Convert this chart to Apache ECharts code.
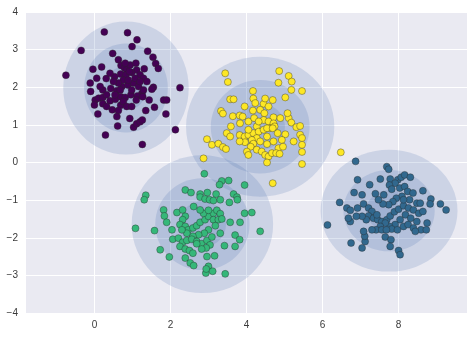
<!DOCTYPE html>
<html>
<head>
<meta charset="utf-8">
<script src="https://cdn.jsdelivr.net/npm/echarts@6/dist/echarts.min.js"></script>
<style>
  html, body { margin: 0; padding: 0; background: #fff; }
  #chart { width: 474px; height: 337px; }
</style>
</head>
<body>
<div id="chart"></div>
<script>
// cluster points, [x, y]
const clusterPurple = [
  [-0.75,2.32],[-0.35,2.98],[0.26,3.47],[0.87,3.45],[1.12,3.26],[0.99,3.08],[0.48,2.90],[1.40,2.96],
  [1.54,2.80],[1.61,2.63],[1.68,2.50],[-0.04,2.48],[0.19,2.54],[0.63,2.73],[0.70,2.58],[0.79,2.52],
  [0.85,2.46],[0.94,2.59],[1.09,2.64],[1.11,2.46],[1.31,2.49],[-0.11,2.11],[0.06,2.24],[0.31,2.23],
  [0.53,2.28],[0.69,2.35],[0.83,2.33],[0.98,2.39],[1.20,2.33],[1.29,2.24],[1.38,2.15],[1.55,2.00],
  [1.51,1.95],[2.25,1.99],[-0.10,1.89],[0.22,1.93],[0.43,1.97],[0.59,1.91],[0.72,2.02],[0.88,2.06],
  [1.03,2.11],[1.16,2.02],[1.25,1.84],[1.44,1.66],[1.58,1.47],[1.82,1.66],[1.90,1.66],[1.88,1.29],
  [0.02,1.66],[0.11,1.71],[0.22,1.73],[0.00,1.53],[0.09,1.29],[0.41,1.64],[0.55,1.68],[0.69,1.75],
  [0.81,1.73],[0.96,1.80],[1.13,1.77],[1.27,1.75],[0.69,1.52],[0.47,1.40],[0.63,1.38],[0.59,1.22],
  [0.93,1.17],[1.03,0.94],[1.11,1.03],[1.20,1.08],[1.26,1.13],[1.35,1.38],[0.61,0.97],[0.29,0.73],
  [1.26,0.48],[2.13,0.87],[0.22,1.56],[0.76,2.19],[0.89,2.19],[1.07,2.24],[0.63,2.11],[0.54,1.80],
  [0.32,1.80],[0.98,1.93],[1.10,1.66],[0.76,1.62],[0.85,1.49],[0.50,2.15],[0.68,1.93],[0.92,2.42],
  [0.81,2.64],[0.41,2.37],[1.20,2.15],[0.15,2.02],[1.29,1.93],[0.98,1.49],[0.32,1.49]
];
const clusterTeal = [
  [6.87,0.03],[7.69,-0.11],[7.74,-0.18],[6.92,-0.46],[7.52,-0.44],[7.78,-0.44],[7.98,-0.46],[8.07,-0.39],
  [8.16,-0.33],[8.31,-0.39],[7.91,-0.55],[7.76,-0.60],[7.82,-0.71],[8.03,-0.68],[8.16,-0.64],[8.24,-0.77],
  [8.38,-0.81],[8.64,-0.75],[9.10,-1.10],[9.25,-1.26],[8.85,-0.97],[8.83,-1.10],[8.48,-1.08],[8.29,-0.99],
  [8.09,-0.90],[7.94,-0.95],[7.85,-1.04],[7.74,-1.12],[7.59,-1.10],[7.47,-0.99],[7.39,-0.83],[7.24,-0.59],
  [7.04,-0.86],[6.83,-0.80],[6.45,-1.06],[6.64,-1.21],[6.73,-1.27],[6.92,-1.21],[7.08,-1.10],[7.21,-1.21],
  [7.30,-1.30],[7.21,-1.42],[7.15,-1.52],[7.04,-1.43],[6.89,-1.43],[6.73,-1.57],[6.68,-1.48],[7.34,-1.48],
  [7.45,-1.52],[7.56,-1.57],[7.69,-1.52],[7.78,-1.42],[7.89,-1.31],[8.00,-1.24],[8.13,-1.15],[8.26,-1.21],
  [8.39,-1.26],[8.53,-1.35],[8.64,-1.30],[8.18,-1.39],[8.04,-1.52],[7.91,-1.65],[7.76,-1.70],[7.65,-1.61],
  [7.52,-1.70],[7.41,-1.79],[7.56,-1.79],[7.82,-1.77],[7.97,-1.79],[8.13,-1.70],[8.25,-1.65],[8.39,-1.74],
  [8.48,-1.57],[8.59,-1.79],[8.75,-1.61],[8.73,-1.79],[8.44,-1.83],[8.32,-1.48],[6.13,-1.66],[6.75,-2.14],
  [7.04,-2.27],[7.12,-2.10],[7.11,-1.96],[7.08,-1.83],[7.30,-1.79],[7.65,-1.98],[7.80,-2.05],[7.78,-2.23],
  [8.00,-2.34],[8.04,-2.45],[7.68,-1.79],[7.43,-1.39],[8.13,-0.99],[8.57,-1.08],[7.61,-0.86]
];
const clusterGreen = [
  [2.89,-0.30],[3.35,-0.49],[3.53,-0.48],[3.29,-0.59],[3.95,-0.60],[2.39,-0.73],[2.54,-0.80],[2.78,-0.84],
  [2.97,-0.80],[3.20,-0.84],[2.78,-0.92],[2.91,-0.97],[3.03,-0.99],[3.13,-1.01],[3.31,-0.99],[3.66,-0.84],
  [3.75,-0.92],[3.76,-0.99],[3.55,-1.06],[1.35,-0.87],[1.31,-0.99],[1.08,-1.75],[1.82,-1.26],[1.84,-1.42],
  [1.90,-1.59],[2.17,-1.33],[2.32,-1.26],[2.39,-1.43],[2.32,-1.52],[2.25,-1.65],[2.39,-1.70],[2.47,-1.79],
  [2.59,-1.74],[2.69,-1.68],[2.78,-1.59],[2.91,-1.52],[3.00,-1.43],[3.13,-1.35],[3.22,-1.27],[3.31,-1.36],
  [2.87,-1.35],[2.78,-1.26],[3.00,-1.27],[3.13,-1.52],[3.26,-1.52],[3.35,-1.50],[3.18,-1.68],[3.00,-1.79],
  [2.89,-1.88],[2.74,-1.92],[2.59,-1.96],[2.43,-1.88],[2.30,-1.79],[2.04,-1.79],[2.06,-2.04],[2.21,-2.01],
  [2.32,-2.12],[2.43,-2.07],[2.56,-2.04],[2.69,-2.10],[2.82,-2.16],[2.96,-2.07],[3.09,-1.98],[3.04,-2.19],
  [2.94,-2.27],[2.82,-2.30],[2.69,-2.16],[2.25,-2.23],[2.39,-2.30],[2.50,-2.34],[2.59,-2.41],[2.39,-2.54],
  [2.52,-2.67],[2.61,-2.74],[1.97,-2.51],[1.73,-2.32],[1.58,-1.81],[3.57,-1.59],[3.83,-1.59],[3.95,-1.35],
  [4.14,-1.33],[3.70,-1.93],[3.70,-2.23],[3.42,-2.21],[3.16,-2.48],[2.96,-2.50],[3.00,-2.76],[2.93,-2.94],
  [3.11,-2.89],[3.44,-2.96],[4.36,-1.83],[3.82,-2.05],[2.94,-2.83],[2.61,-1.17],[3.31,-1.88]
];
const clusterYellow = [
  [3.44,2.37],[3.51,2.14],[4.86,2.43],[5.11,2.30],[5.19,2.15],[5.46,1.90],[4.84,2.12],[5.18,1.93],
  [5.02,1.73],[4.17,1.90],[4.18,1.70],[4.23,1.58],[4.45,1.56],[4.49,1.70],[4.69,1.66],[3.57,1.68],
  [3.66,1.68],[3.33,1.37],[3.38,1.30],[3.64,1.23],[3.82,1.25],[3.90,1.22],[3.95,1.49],[4.17,1.38],
  [4.36,1.40],[4.47,1.31],[4.58,1.49],[4.71,1.20],[4.89,1.18],[5.11,1.18],[5.18,1.06],[5.31,0.94],
  [5.41,0.97],[5.08,1.31],[4.45,1.13],[4.58,1.09],[4.71,1.04],[4.74,0.96],[4.61,0.91],[4.27,0.96],
  [4.05,1.09],[3.83,1.04],[3.59,0.96],[3.48,0.78],[3.57,0.69],[3.82,0.73],[3.95,0.69],[4.05,0.73],
  [4.18,0.78],[4.32,0.82],[4.45,0.87],[4.54,0.91],[4.69,0.91],[4.82,0.78],[5.02,0.75],[5.41,0.74],
  [5.46,0.65],[4.54,0.69],[4.27,0.65],[4.14,0.60],[3.96,0.54],[3.82,0.56],[4.18,0.50],[4.36,0.56],
  [4.54,0.49],[4.71,0.56],[4.93,0.60],[5.24,0.56],[5.46,0.47],[5.46,0.28],[5.46,-0.04],[2.96,0.62],
  [3.09,0.47],[3.26,0.50],[3.38,0.41],[3.46,0.36],[4.11,0.42],[4.01,0.29],[4.05,0.20],[4.27,0.34],
  [4.40,0.29],[4.49,0.20],[4.58,0.16],[4.67,0.25],[4.84,0.38],[4.96,0.42],[4.78,0.25],[4.87,0.23],
  [4.54,0.00],[2.87,0.11],[4.69,-0.55],[6.48,0.27],[4.20,1.18],[4.32,1.09],[4.05,0.87]
];

// fitted components: mean and one-sigma radii (x, y); rings drawn at 1, 2, 3 sigma
const componentMeans = [[0.83, 1.98], [7.75, -1.28], [2.84, -1.64], [4.36, 0.95]];
const componentSigmas = [[0.55, 0.59], [0.60, 0.54], [0.62, 0.61], [0.65, 0.62]];
const sigmaLevels = [1, 2, 3];

const xTicks = [0, 2, 4, 6, 8];

const ellipseData = [];
componentMeans.forEach((m, i) => {
  sigmaLevels.forEach(n => {
    ellipseData.push([m[0], m[1], componentSigmas[i][0] * n, componentSigmas[i][1] * n]);
  });
});

const minusFmt = v => String(v).replace('-', '\u2212');

const pointStyle = color => ({
  color: color,
  borderColor: 'rgba(40, 40, 40, 0.55)',
  borderWidth: 0.7,
  opacity: 1
});

const chart = echarts.init(document.getElementById('chart'));

const option = {
  animation: false,
  grid: {
    left: 26, right: 7, top: 12, bottom: 24,
    show: true,
    backgroundColor: '#EAEAF2',
    borderWidth: 0
  },
  xAxis: {
    type: 'value',
    min: -1.8,
    max: 9.8,
    axisLine: { show: false },
    axisTick: { show: false, customValues: xTicks },
    axisLabel: {
      customValues: xTicks,
      formatter: minusFmt,
      color: '#3a3a3a',
      fontSize: 10,
      fontFamily: 'Liberation Sans, Arial, sans-serif',
      margin: 7
    },
    splitLine: { show: true, lineStyle: { color: '#fff', width: 1 } }
  },
  yAxis: {
    type: 'value',
    min: -4,
    max: 4,
    interval: 1,
    axisLine: { show: false },
    axisTick: { show: false },
    axisLabel: {
      formatter: minusFmt,
      color: '#3a3a3a',
      fontSize: 10,
      fontFamily: 'Liberation Sans, Arial, sans-serif',
      margin: 8
    },
    splitLine: { show: true, lineStyle: { color: '#fff', width: 1 } }
  },
  series: [
    {
      type: 'custom',
      data: ellipseData,
      encode: { x: 0, y: 1 },
      z: 1,
      silent: true,
      renderItem: (params, api) => {
        const c = api.coord([api.value(0), api.value(1)]);
        const rx = api.size([api.value(2), 0])[0];
        const ry = api.size([0, api.value(3)])[1];
        return {
          type: 'ellipse',
          shape: { cx: c[0], cy: c[1], rx: rx, ry: ry },
          style: { fill: 'rgba(76, 114, 176, 0.19)' }
        };
      }
    },
    { type: 'scatter', data: clusterPurple, symbolSize: 7, z: 3, itemStyle: pointStyle('#440154') },
    { type: 'scatter', data: clusterTeal, symbolSize: 7, z: 3, itemStyle: pointStyle('#31688E') },
    { type: 'scatter', data: clusterGreen, symbolSize: 7, z: 3, itemStyle: pointStyle('#35B779') },
    { type: 'scatter', data: clusterYellow, symbolSize: 7, z: 3, itemStyle: pointStyle('#FDE725') }
  ]
};

chart.setOption(option);
</script>
</body>
</html>
